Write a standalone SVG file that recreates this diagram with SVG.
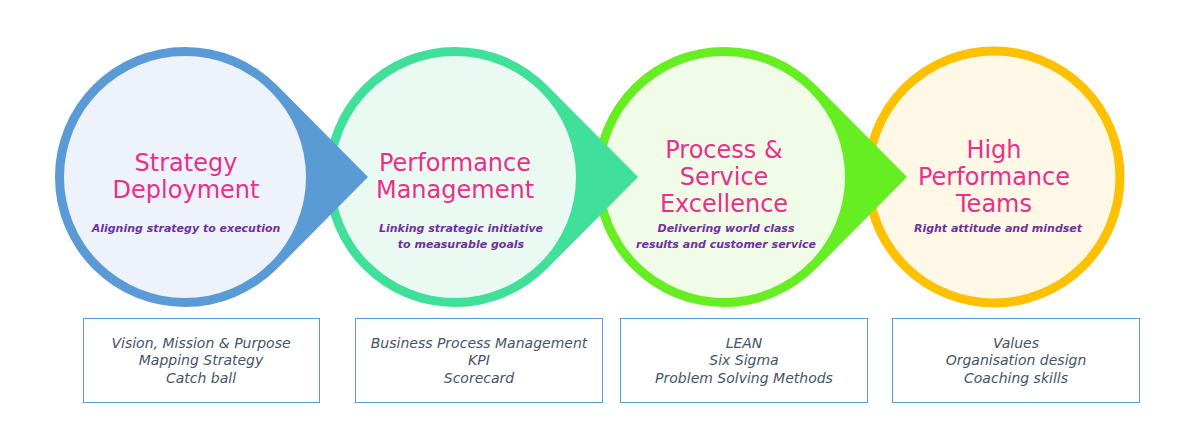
<svg xmlns="http://www.w3.org/2000/svg" width="1181" height="436" viewBox="0 0 1181 436">
<style>
.t{font-family:"DejaVu Sans",Verdana,sans-serif;font-size:24px;fill:#E8308A;text-anchor:middle}
.s{font-family:"DejaVu Sans",sans-serif;font-style:italic;font-size:11px;fill:#7030A0;text-anchor:middle;font-weight:bold}
.b{font-family:"DejaVu Sans",Verdana,sans-serif;font-style:italic;font-size:14px;fill:#44546A;text-anchor:middle}
.box{fill:#fff;stroke:#5B9BD5;stroke-width:1}
</style>
<rect width="1181" height="436" fill="#fff"/>
<g id="node4">
<circle cx="994" cy="177" r="126" fill="#FFF8E6" stroke="#FFC000" stroke-width="9"/>
<text class="t" x="994" y="158">High</text><text class="t" x="994" y="185">Performance</text><text class="t" x="994" y="212">Teams</text>
<text class="s" x="998" y="232">Right attitude and mindset</text>
</g>
<g id="node3">
<path d="M907 177 L816.3 85.5 A130 130 0 1 0 816.3 268.5 Z" fill="#66EE22"/>
<circle cx="724" cy="177" r="121" fill="#F0FBE8"/>
<text class="t" x="724" y="158">Process &amp;</text><text class="t" x="724" y="185">Service</text><text class="t" x="724" y="212">Excellence</text>
<text class="s" x="726" y="232">Delivering world class</text><text class="s" x="726" y="248">results and customer service</text>
</g>
<g id="node2">
<path d="M638 177 L547.3 85.5 A130 130 0 1 0 547.3 268.5 Z" fill="#40E09A"/>
<circle cx="455" cy="177" r="121" fill="#EAF9F1"/>
<text class="t" x="455" y="171">Performance</text><text class="t" x="455" y="198">Management</text>
<text class="s" x="461" y="232">Linking strategic initiative</text><text class="s" x="461" y="248">to measurable goals</text>
</g>
<g id="node1">
<path d="M368 177 L277.3 85.5 A130 130 0 1 0 277.3 268.5 Z" fill="#5B9BD5"/>
<circle cx="185" cy="177" r="121" fill="#EEF3FB"/>
<text class="t" x="186" y="171">Strategy</text><text class="t" x="186" y="198">Deployment</text>
<text class="s" x="186" y="232">Aligning strategy to execution</text>
</g>
<g id="box1"><rect class="box" x="83.5" y="318.5" width="236" height="84"/>
<text class="b" x="201" y="348">Vision, Mission &amp; Purpose</text><text class="b" x="201" y="365">Mapping Strategy</text><text class="b" x="201" y="383">Catch ball</text></g>
<g id="box2"><rect class="box" x="355.5" y="318.5" width="247" height="84"/>
<text class="b" x="479" y="348">Business Process Management</text><text class="b" x="479" y="365">KPI</text><text class="b" x="479" y="383">Scorecard</text></g>
<g id="box3"><rect class="box" x="620.5" y="318.5" width="247" height="84"/>
<text class="b" x="744" y="348">LEAN</text><text class="b" x="744" y="365">Six Sigma</text><text class="b" x="744" y="383">Problem Solving Methods</text></g>
<g id="box4"><rect class="box" x="892.5" y="318.5" width="247" height="84"/>
<text class="b" x="1016" y="348">Values</text><text class="b" x="1016" y="365">Organisation design</text><text class="b" x="1016" y="383">Coaching skills</text></g>
<g id="connectors"/>
</svg>
